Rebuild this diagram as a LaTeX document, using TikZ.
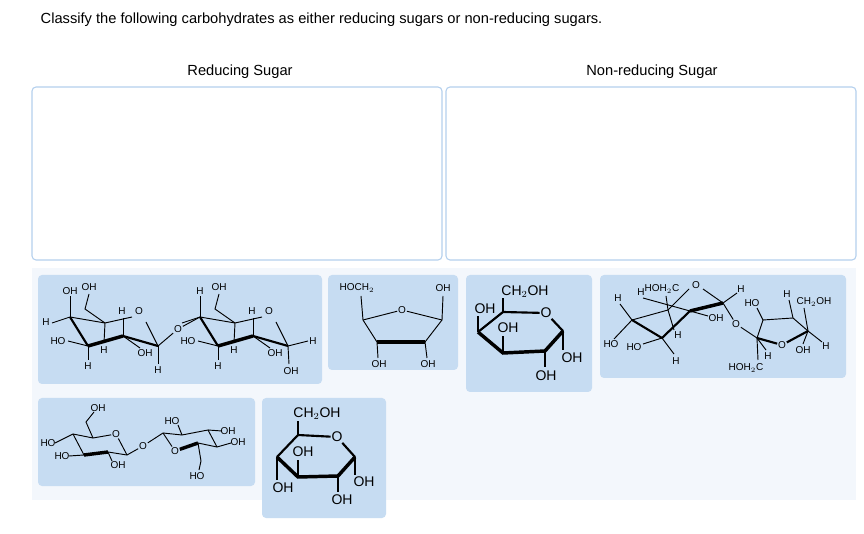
\documentclass[tikz,border=0pt]{standalone}
\usepackage{fontspec}
\setmainfont{Liberation Sans}
\definecolor{tile}{HTML}{C6DCF2}
\definecolor{tray}{HTML}{F3F7FC}
\definecolor{bord}{HTML}{B5D0EE}
\begin{document}
\begin{tikzpicture}[x=0.75pt,y=-0.75pt,
  lab/.style={font=\fontsize{7.5}{8}\selectfont,inner sep=0.5pt},
  big/.style={font=\fontsize{10.5}{11}\selectfont,inner sep=0.5pt},
  bond/.style={line width=0.7pt},
  bold/.style={line width=2.6pt},
  boldm/.style={line width=1.6pt},
  tilebox/.style={fill=tile,rounded corners=3pt,draw=none},
  dropbox/.style={draw=bord,fill=white,rounded corners=3pt,line width=0.8pt}]
\useasboundingbox (0,0) rectangle (864,534);
\fill[white] (0,0) rectangle (864,534);
\node[anchor=west,font=\fontsize{11}{13}\selectfont] (title) at (36,20) {Classify the following carbohydrates as either reducing sugars or non-reducing sugars.};
\node[font=\fontsize{11}{13}\selectfont] (h1) at (240,72) {Reducing Sugar};
\node[font=\fontsize{11}{13}\selectfont] (h2) at (652,72) {Non-reducing Sugar};
\draw[dropbox] (32,87) rectangle (442,260);
\draw[dropbox] (446,87) rectangle (856,260);
\fill[tray] (32,268) rectangle (856,500);
\fill[tilebox] (38,275) rectangle (322,384);
\fill[tilebox] (328,275) rectangle (458,370);
\fill[tilebox] (466,275) rectangle (592,392);
\fill[tilebox] (600,275) rectangle (846,378);
\fill[tilebox] (38,398) rectangle (255,486);
\fill[tilebox] (262,398) rectangle (386,518);

% ---- tile 1: disaccharide chairs
\foreach \dx/\n in {0/a,130/b}{
 \begin{scope}[xshift=\dx*0.75pt]
 \coordinate (C4\n) at (70,317); \coordinate (C5\n) at (105,323);
 \coordinate (O\n) at (139,314); \coordinate (C1\n) at (158,346);
 \coordinate (C2\n) at (123,336); \coordinate (C3\n) at (88,346);
 \draw[bond] (C4\n) -- (C5\n) -- (132,317);
 \draw[bond] (146,322) -- (C1\n);
 \draw[boldm] (C4\n) -- (C3\n);
 \draw[bold] (C3\n) -- (C2\n);
 \draw[boldm] (C2\n) -- (C1\n);
 \draw[bond] (C5\n) -- (85,309) -- (89,294);
 \draw[bond] (C4\n) -- (70,296);
 \draw[bond] (C4\n) -- (52,323);
 \draw[bond] (C3\n) -- (68,341);
 \draw[bond] (C3\n) -- (88,360);
 \draw[bond] (C5\n) -- (104,343);
 \draw[bond] (C2\n) -- (123,318);
 \draw[bond] (C2\n) -- (140,348);
 \node[lab] at (104,350) {H};
 \node[lab] at (122,311) {H};
 \node[lab] at (88,366) {H};
 \node[lab] at (139,311) {O};
 \node[lab] at (58,341) {HO};
 \node[lab] at (145,353) {OH};
 \node[lab] at (89,287) {OH};
 \end{scope}}
\node[lab] at (70,291) {OH};
\node[lab] at (46,322) {H};
\draw[bond] (C1a) -- (158,364); \node[lab] at (158,370) {H};
\node[lab] (gO) at (178,329) {O};
\draw[bond] (C1a) -- (gO) -- (C4b);
\node[lab] at (200,291) {H};
\draw[bond] (C1b) -- (308,341); \node[lab] at (313,341) {H};
\draw[bond] (C1b) -- (289,364); \node[lab] at (291,371) {OH};

% ---- tile 2: furanose
\node[lab] (fO) at (402,310) {O};
\coordinate (f4) at (363,320); \coordinate (f3) at (377,342);
\coordinate (f2) at (425,342); \coordinate (f1) at (442,320);
\draw[bond] (f4) -- (fO) -- (f1);
\draw[bond] (f4) -- (f3); \draw[bond] (f2) -- (f1);
\draw[bold] (f3) -- (f2);
\node[lab] at (357,288) {HOCH$_2$};
\draw[bond] (f4) -- (361,296);
\node[lab] at (443,288) {OH}; \draw[bond] (f1) -- (443,296);
\draw[bond] (f3) -- (378,358); \node[lab] at (379,364) {OH};
\draw[bond] (f2) -- (427,358); \node[lab] at (428,364) {OH};

% ---- tile 3: galactose Haworth
\node[big] (gaO) at (546,313) {O};
\coordinate (g5) at (503,312); \coordinate (g1) at (563,331);
\coordinate (g2) at (545,351); \coordinate (g3) at (503,353); \coordinate (g4) at (478,332);
\draw[boldm] (g5) -- (gaO); \draw[boldm] (gaO) -- (g1);
\draw[boldm] (g5) -- (g4);
\draw[bold] (g4) -- (g3) -- (g2) -- (g1);
\node[big] at (525,292) {CH$_2$OH}; \draw[boldm] (g5) -- (503,298);
\node[big] at (485,309) {OH}; \draw[boldm] (g4) -- (478,316);
\node[big] at (508,328) {OH}; \draw[boldm] (g3) -- (503,336);
\draw[boldm] (g1) -- (563,350); \node[big] at (572,358) {OH};
\draw[boldm] (g2) -- (545,367); \node[big] at (546,376) {OH};

% ---- tile 4: sucrose
\coordinate (s4) at (632,320); \coordinate (s3) at (662,338);
\coordinate (s2) at (690,311); \coordinate (s1) at (723,303);
\node[lab] (sO) at (696,285) {O}; \coordinate (s5) at (668,310);
\draw[bond] (s4) -- (s5) -- (689,289);
\draw[bond] (703,289) -- (s1);
\draw[boldm] (s4) -- (s3);
\draw[boldm] (s3) -- (s2);
\draw[bold] (s2) -- (s1);
\node[lab] at (662,289) {HOH$_2$C};
\draw[bond] (s5) -- (666,296);
\node[lab] at (618,298) {H}; \draw[bond] (s4) -- (620,304);
\node[lab] at (611,344) {HO}; \draw[bond] (s4) -- (614,339);
\node[lab] at (634,347) {HO}; \draw[bond] (s3) -- (643,344);
\node[lab] at (641,292) {H}; \draw[bond] (s2) -- (643,298);
\node[lab] at (678,335) {H}; \draw[bond] (s5) -- (674,330);
\draw[bond] (s3) -- (674,354); \node[lab] at (676,361) {H};
\node[lab] at (716,318) {OH}; \draw[bond] (s2) -- (708,316);
\node[lab] at (741,289) {H}; \draw[bond] (s1) -- (737,293);
\node[lab] (sgO) at (736,324) {O}; \draw[bond] (s1) -- (sgO) -- (757,338);
\coordinate (t2) at (757,338); \coordinate (t3) at (763,320);
\coordinate (t4) at (793,318); \coordinate (t5) at (808,331);
\node[lab] (tO) at (782,345) {O};
\draw[bond] (t2) -- (t3) -- (t4) -- (t5);
\draw[boldm] (t2) -- (tO); \draw[boldm] (tO) -- (t5);
\node[lab] at (752,303) {HO}; \draw[bond] (t3) -- (757,308);
\node[lab] at (787,294) {H}; \draw[bond] (t4) -- (789,300);
\node[lab] at (814,302) {CH$_2$OH}; \draw[bond] (t5) -- (804,308);
\node[lab] at (803,350) {OH}; \draw[bond] (t5) -- (803,344);
\node[lab] at (826,346) {H}; \draw[bond] (t5) -- (822,342);
\node[lab] at (768,356) {H}; \draw[bond] (t2) -- (766,350);
\node[lab] at (746,368) {HOH$_2$C}; \draw[bond] (t2) -- (758,360);

% ---- tile 5: skeletal disaccharide
\coordinate (la) at (73,434); \coordinate (lb) at (93,438);
\node[lab] (lO) at (116,434) {O};
\coordinate (lc) at (127,455); \coordinate (ld) at (108,452); \coordinate (le) at (84,455);
\draw[bond] (la) -- (lb) -- (lO) -- (lc);
\draw[bond] (la) -- (le); \draw[bold] (le) -- (ld); \draw[bond] (ld) -- (lc);
\draw[bond] (lb) -- (86,422) -- (94,412); \node[lab] at (98,408) {OH};
\node[lab] at (48,443) {HO}; \draw[bond] (la) -- (55,443);
\node[lab] at (62,456) {HO}; \draw[bond] (le) -- (69,456);
\draw[bond] (ld) -- (112,461); \node[lab] at (118,465) {OH};
\node[lab] (lgO) at (143,446) {O};
\coordinate (ra) at (163,433); \node[lab] (rO) at (175,451) {O};
\coordinate (rb) at (198,443); \coordinate (rc) at (217,447);
\coordinate (rd) at (208,430); \coordinate (re) at (182,435);
\draw[bond] (lc) -- (lgO) -- (ra) -- (re) -- (rd) -- (rc);
\draw[bond] (ra) -- (rO); \draw[bold] (rO) -- (rb); \draw[bond] (rb) -- (rc);
\node[lab] at (172,421) {HO}; \draw[bond] (re) -- (178,425);
\node[lab] at (228,431) {OH}; \draw[bond] (rd) -- (222,431);
\node[lab] at (238,442) {OH}; \draw[bond] (rc) -- (231,443);
\draw[bond] (rb) -- (201,461) -- (199,470); \node[lab] at (197,476) {HO};

% ---- tile 6: glucose Haworth
\node[big] (glO) at (337,437) {O};
\coordinate (u5) at (298,435); \coordinate (u1) at (355,457);
\coordinate (u2) at (338,476); \coordinate (u3) at (298,477); \coordinate (u4) at (277,457);
\draw[boldm] (u5) -- (glO); \draw[boldm] (glO) -- (u1);
\draw[boldm] (u5) -- (u4);
\draw[bold] (u4) -- (u3) -- (u2) -- (u1);
\node[big] at (317,414) {CH$_2$OH}; \draw[boldm] (u5) -- (298,421);
\node[big] at (303,452) {OH}; \draw[boldm] (u3) -- (298,460);
\draw[boldm] (u4) -- (277,480); \node[big] at (283,488) {OH};
\draw[boldm] (u1) -- (355,475); \node[big] at (364,482) {OH};
\draw[boldm] (u2) -- (338,492); \node[big] at (342,500) {OH};
\end{tikzpicture}
\end{document}
